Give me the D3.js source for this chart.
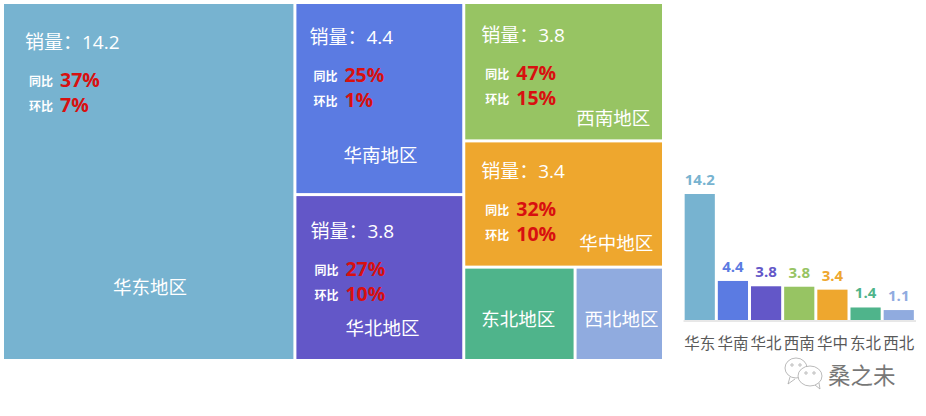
<!DOCTYPE html>
<html>
<head>
<meta charset="utf-8">
<script src="https://cdn.jsdelivr.net/npm/d3@7"></script>
<style>
  html, body { margin: 0; padding: 0; background: #fff; }
  svg { display: block; }
  text { font-family: "Open Sans", "Noto Sans CJK SC", sans-serif; }
</style>
</head>
<body>
<div id="chart"></div>
<script>
// Regions, biggest first
const regions = ['华东地区', '华南地区', '华北地区', '西南地区', '华中地区', '东北地区', '西北地区'];
const shortNames = ['华东', '华南', '华北', '西南', '华中', '东北', '西北'];
// Unrounded estimates from the cell and bar sizes, labels show one decimal
const sales = [14.2, 4.4, 3.8, 3.75, 3.42, 1.41, 1.12];
const yoy = [37, 25, 27, 47, 32, null, null];
const mom = [7, 1, 10, 15, 10, null, null];
const colors = ['#77b3d0', '#5b7be2', '#6357c8', '#97c463', '#eea72e', '#4fb48b', '#90abdf'];

// Text offsets from each cell's top-left corner: [left of text, y of the sales row, name x, name y]
const labelPos = {
  '华东地区': [21, 38, 146, 282],
  '华南地区': [13, 33, 84, 150],
  '华北地区': [14, 35, 86, 131],
  '西南地区': [16, 31, 148, 113],
  '华中地区': [16, 29, 151, 100],
  '东北地区': [0, 0, 53, 50],
  '西北地区': [0, 0, 45, 50],
};

const width = 926;
const height = 416;
const svg = d3.select('#chart').append('svg').attr('width', width).attr('height', height);

// Nested as columns -> rows -> the small pair, so the layout follows the values
const leaf = (i) => ({ name: regions[i], value: sales[i], idx: i });
const tree = {
  children: [
    leaf(0),
    { children: [leaf(1), leaf(2)] },
    { children: [leaf(3), leaf(4), { children: [leaf(5), leaf(6)] }] },
  ],
};

const root = d3.hierarchy(tree).sum((d) => d.value || 0);
d3.treemap()
  .tile((node, x0, y0, x1, y1) => {
    (node.depth % 2 === 0 ? d3.treemapDice : d3.treemapSlice)(node, x0, y0, x1, y1);
  })
  .size([658, 355])
  .paddingInner(3)(root);

const map = svg.append('g').attr('transform', 'translate(4,4)');

root.leaves().forEach((node) => {
  const { name, idx } = node.data;
  const cell = map.append('g').attr('transform', `translate(${node.x0},${node.y0})`);
  cell.append('rect')
    .attr('width', node.x1 - node.x0)
    .attr('height', node.y1 - node.y0)
    .attr('fill', colors[idx]);

  const [tx, ty, nx, ny] = labelPos[name];
  cell.append('text')
    .attr('x', nx).attr('y', ny)
    .attr('text-anchor', 'middle')
    .attr('dominant-baseline', 'central')
    .attr('font-size', 18.5)
    .attr('fill', '#fff')
    .text(name);

  if (yoy[idx] == null) return;

  cell.append('text')
    .attr('x', tx).attr('y', ty)
    .attr('dominant-baseline', 'central')
    .attr('font-size', 19)
    .attr('fill', '#fff')
    .text(`销量：${sales[idx].toFixed(1)}`);

  [['同比', yoy[idx], 39], ['环比', mom[idx], 64]].forEach(([label, pct, dy]) => {
    cell.append('text')
      .attr('x', tx + 4).attr('y', ty + dy)
      .attr('dominant-baseline', 'central')
      .attr('font-size', 12)
      .attr('font-weight', 700)
      .attr('fill', '#fff')
      .text(label);
    cell.append('text')
      .attr('x', tx + 35).attr('y', ty + dy - 2)
      .attr('dominant-baseline', 'central')
      .attr('font-size', 19.5)
      .attr('font-weight', 700)
      .attr('fill', '#d81010')
      .text(`${pct}%`);
  });
});

// Small bar chart on the right
const x = d3.scaleBand().domain(shortNames).range([683, 915.5]).paddingInner(0.09).paddingOuter(0.05);
const y = d3.scaleLinear().domain([0, 14.2]).range([320, 194]);

svg.selectAll('.bar')
  .data(sales)
  .enter()
  .append('rect')
  .attr('class', 'bar')
  .attr('x', (d, i) => x(shortNames[i]))
  .attr('y', (d) => y(d))
  .attr('width', x.bandwidth())
  .attr('height', (d) => y(0) - y(d))
  .attr('fill', (d, i) => colors[i]);

svg.selectAll('.bar-label')
  .data(sales)
  .enter()
  .append('text')
  .attr('class', 'bar-label')
  .attr('x', (d, i) => x(shortNames[i]) + x.bandwidth() / 2)
  .attr('y', (d) => y(d) - 15)
  .attr('text-anchor', 'middle')
  .attr('dominant-baseline', 'central')
  .attr('font-size', 15)
  .attr('font-weight', 700)
  .attr('fill', (d, i) => colors[i])
  .text((d) => d.toFixed(1));

const axis = d3.axisBottom(x).tickSize(0).tickPadding(17);
svg.append('g')
  .attr('transform', 'translate(0,320.5)')
  .call(axis)
  .call((sel) => {
    sel.select('path').attr('stroke', '#d0d0d0').attr('stroke-width', 1);
    sel.selectAll('text')
      .attr('font-size', 15.5)
      .attr('font-family', '"Noto Sans CJK SC", sans-serif')
      .attr('fill', '#595959');
  });

// WeChat style watermark
const mark = svg.append('g')
  .attr('fill', 'none')
  .attr('stroke', '#a8a8a8')
  .attr('stroke-width', 0.8);
mark.append('ellipse').attr('cx', 796).attr('cy', 368).attr('rx', 11).attr('ry', 10).attr('fill', '#fff');
mark.append('ellipse').attr('cx', 810).attr('cy', 376).attr('rx', 12).attr('ry', 10).attr('fill', '#fff');
mark.append('path').attr('d', 'M790 377 L788 384 L795 379');
mark.append('path').attr('d', 'M815 385 L820 389 L819 383');
[[792, 365], [800, 365], [806, 373], [814, 373]].forEach(([cx, cy]) => {
  mark.append('circle').attr('cx', cx).attr('cy', cy).attr('r', 1.2);
});
svg.append('text')
  .attr('x', 828).attr('y', 375)
  .attr('dominant-baseline', 'central')
  .attr('font-size', 22.5)
  .attr('fill', '#777')
  .text('桑之未');
</script>
</body>
</html>
